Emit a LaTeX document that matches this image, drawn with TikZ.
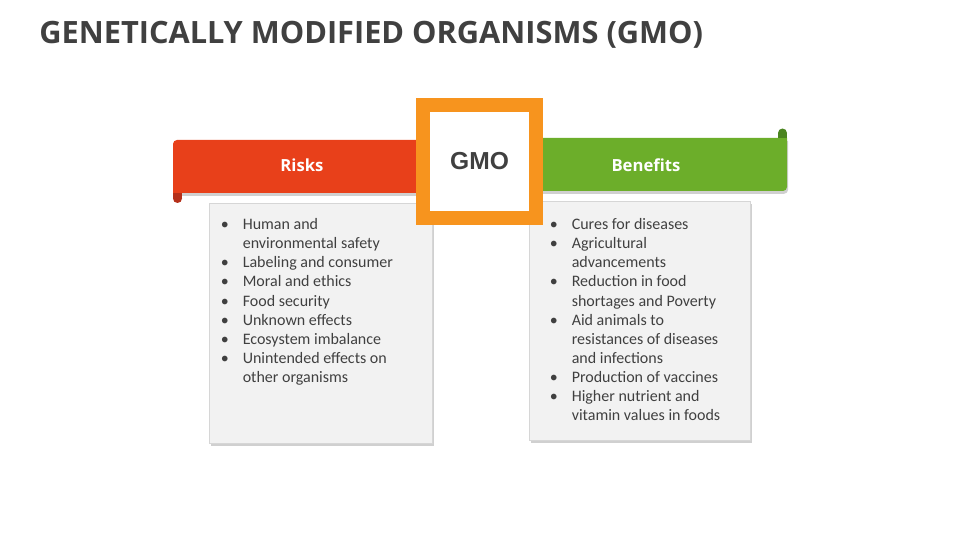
\documentclass[tikz,border=0pt]{standalone}
\usepackage{fontspec}
\setmainfont{Carlito}
\newfontfamily\headfont{Open Sans}
\newfontfamily\gmofont{Liberation Sans}
\usetikzlibrary{
  calc,
  positioning,
  shadows
}
\definecolor{titlegray}{HTML}{404040}
\definecolor{riskred}{HTML}{E8401A}
\definecolor{riskdark}{HTML}{B5301A}
\definecolor{benefitgreen}{HTML}{6CAE2A}
\definecolor{benefitdark}{HTML}{4B8520}
\definecolor{gmoorange}{HTML}{F7941E}
\definecolor{boxfill}{HTML}{F2F2F2}
\definecolor{boxline}{HTML}{D6D6D6}
\tikzset{
  line cap=round,
  line join=round,
  softshadow/.style={drop shadow={shadow xshift=0.6pt, shadow yshift=-1.6pt, opacity=0.3, fill=black!60}},
  listbox/.style={draw=boxline, fill=boxfill, line width=0.6pt, inner sep=0pt, softshadow},
  listtext/.style={align=left, inner sep=0pt, text=titlegray, font=\fontsize{9.1}{10.9}\selectfont},
  bannertext/.style={text=white, font=\headfont\bfseries\fontsize{9.5}{11}\selectfont},
  gmobox/.style={draw=gmoorange, fill=white, line width=7.9pt, minimum size=2.26cm, inner sep=0pt, text=titlegray, font=\gmofont\bfseries\fontsize{14}{16}\selectfont}
}
\newcommand{\bul}{\makebox[12.5pt][l]{\textbullet}}
\newcommand{\cont}{\hspace*{12.5pt}}

\begin{document}
\begin{tikzpicture}[x=0.02cm, y=-0.02cm]

% page
\fill[white] (0,0) rectangle (960,540);
\useasboundingbox (0,0) rectangle (960,540);

% title
\node[anchor=base west, inner sep=0pt, text=titlegray, font=\headfont\bfseries\fontsize{17.5}{20}\selectfont] (title) at (39,44) {GENETICALLY MODIFIED ORGANISMS (GMO)};

% banners
\fill[riskred, softshadow] (173,193) -- (173,144) arc[start angle=180, end angle=90, radius=0.08cm] -- (440,140) -- (440,193) -- cycle;
\fill[riskdark] (173,193) rectangle (182,198.5);
\fill[riskdark] (177.5,198.5) circle (0.09cm);
\fill[benefitgreen, softshadow] (520,138) -- (787,138) -- (787,187) arc[start angle=0, end angle=-90, radius=0.08cm] -- (520,191) -- cycle;
\fill[benefitdark] (778,133) rectangle (787,138);
\fill[benefitdark] (782.5,133) circle (0.09cm);

% list boxes
\node[listbox, anchor=north west, minimum width=4.46cm, minimum height=4.8cm] (riskbox) at (209,203) {};
\node[listbox, anchor=north west, minimum width=4.42cm, minimum height=4.78cm] (benefitbox) at (529,201) {};

% centre square
\node[gmobox] (gmo) at (479.5,161.5) {GMO};

% banner labels
\node[bannertext] (risks) at (302,165) {Risks};
\node[bannertext] (benefits) at (646,165) {Benefits};

% lists
\node[listtext, anchor=north west] (risklist) at ($(riskbox.north west)+(11.5,15)$) {%
\bul Human and\\
\cont environmental safety\\
\bul Labeling and consumer\\
\bul Moral and ethics\\
\bul Food security\\
\bul Unknown effects\\
\bul Ecosystem imbalance\\
\bul Unintended effects on\\
\cont other organisms};
\node[listtext, anchor=north west] (benefitlist) at ($(benefitbox.north west)+(20.5,17)$) {%
\bul Cures for diseases\\
\bul Agricultural\\
\cont advancements\\
\bul Reduction in food\\
\cont shortages and Poverty\\
\bul Aid animals to\\
\cont resistances of diseases\\
\cont and infections\\
\bul Production of vaccines\\
\bul Higher nutrient and\\
\cont vitamin values in foods};

\end{tikzpicture}
\end{document}
